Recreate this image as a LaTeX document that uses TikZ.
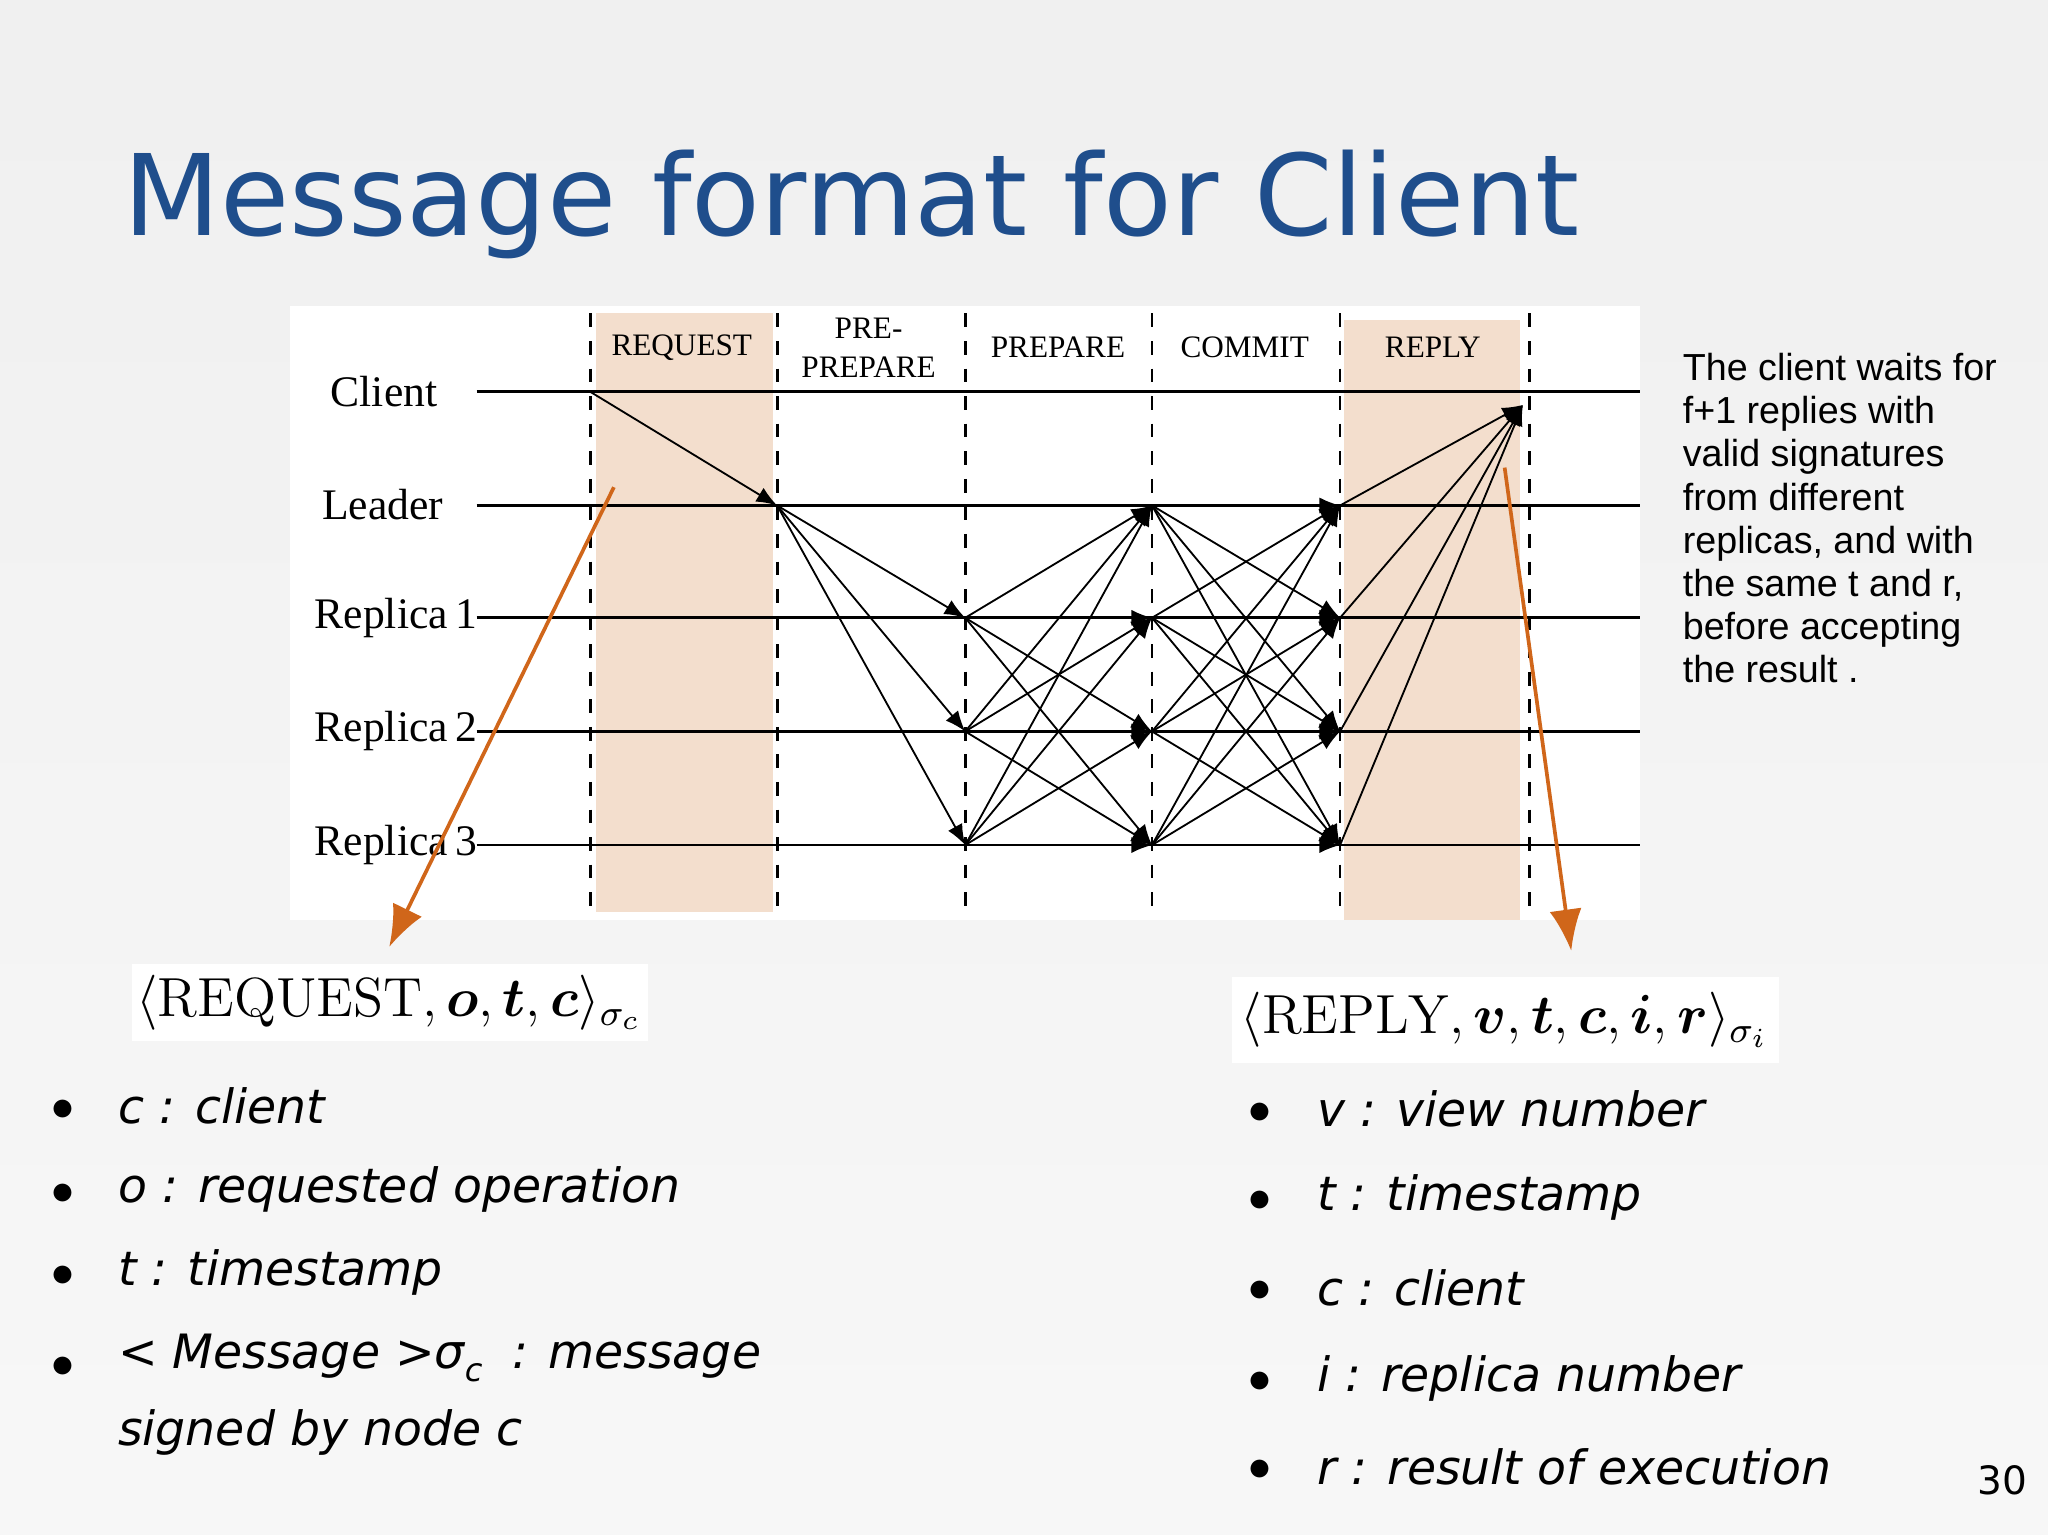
\documentclass[tikz,border=0pt]{standalone}
\usepackage{amsmath}
\usepackage{fontspec}
\usetikzlibrary{arrows.meta}
\newfontfamily\dejavu{DejaVu Sans}
\newfontfamily\lsans{Liberation Sans}
\newfontfamily\lserif{Liberation Serif}
\definecolor{titleblue}{HTML}{1F4E8C}
\definecolor{bandcol}{HTML}{F3DECD}
\definecolor{org}{HTML}{D0661A}
\begin{document}
\begin{tikzpicture}[x=0.01cm,y=-0.01cm,
  msg/.style={-{Latex[length=4.5pt,width=3.5pt]},line width=0.4pt},
  bul/.style={anchor=west,font=\dejavu\itshape\fontsize{10.3}{13}\selectfont},
  dot/.style={font=\dejavu\fontsize{10}{12}\selectfont},
  lab/.style={font=\lserif\fontsize{9.5}{11}\selectfont},
  col/.style={font=\lserif\fontsize{6.8}{8.5}\selectfont,align=center}]
\useasboundingbox (0,0) rectangle (1568,1175);
\fill[top color=gray!12,bottom color=gray!6] (0,0) rectangle (1568,1175);
\node[anchor=base west,text=titleblue,font=\dejavu\fontsize{24.5}{28}\selectfont] (title) at (82,180) {Message format for Client};
\fill[white] (222,234) rectangle (1256,704);
\fill[bandcol] (456,240) rectangle (592,698);
\fill[bandcol] (1029,245) rectangle (1164,704);
\foreach \x in {452,595,739,882,1026,1171}
  \draw[dashed,line width=0.6pt] (\x,240) -- (\x,704);
\foreach \y in {300,387,473,560,647}
  \draw[line width=0.6pt] (365,\y) -- (1256,\y);
\node[lab] (cl) at (294,300) {Client};
\node[lab] (ld) at (293,386) {Leader};
\node[lab] (r1) at (303,473) {Replica\,1};
\node[lab] (r2) at (303,560) {Replica\,2};
\node[lab] (r3) at (303,647) {Replica\,3};
\node[col] (c1) at (522,266) {REQUEST};
\node[col] (c2) at (665,266) {PRE-\\PREPARE};
\node[col] (c3) at (810,266) {PREPARE};
\node[col] (c4) at (953,266) {COMMIT};
\node[col] (c5) at (1097,266) {REPLY};
\foreach \c/\x in {0/452,1/595,2/739,3/882,4/1026}
  \foreach \r/\y in {0/300,1/387,2/473,3/560,4/647}
    \coordinate (p\c\r) at (\x,\y);
\coordinate (cli) at (1166,310);
\draw[msg] (p00) -- (p11);
\foreach \r in {2,3,4} \draw[msg] (p11) -- (p2\r);
\foreach \s in {2,3,4} \foreach \r in {1,2,3,4} \draw[msg] (p2\s) -- (p3\r);
\foreach \s in {1,2,3,4} \foreach \r in {1,2,3,4} \draw[msg] (p3\s) -- (p4\r);
\foreach \s in {1,2,3,4} \draw[msg] (p4\s) -- (cli);
\coordinate (oa1) at (470,373); \coordinate (oa2) at (298,725);
\coordinate (ob1) at (1152,358); \coordinate (ob2) at (1203,728);
\draw[org,line width=0.8pt,-{Latex[length=9pt,width=7pt]}] (oa1) -- (oa2);
\draw[org,line width=0.8pt,-{Latex[length=9pt,width=7pt]}] (ob1) -- (ob2);
\node[anchor=north west,align=left,font=\lsans\fontsize{8.2}{9.4}\selectfont] (note) at (1276,258)
 {The client waits for\\f+1 replies with\\valid signatures\\from different\\replicas, and with\\the same t and r,\\before accepting\\the result .};
\fill[white] (101,738) rectangle (496,797);
\node[font=\fontsize{12}{14}\selectfont] (freq) at (298,768) {$\langle\mathrm{REQUEST}, \boldsymbol{o}, \boldsymbol{t}, \boldsymbol{c}\rangle_{\sigma_c}$};
\fill[white] (943,748) rectangle (1362,814);
\node[font=\fontsize{12}{14}\selectfont] (frep) at (1152,781) {$\langle\mathrm{REPLY}, \boldsymbol{v}, \boldsymbol{t}, \boldsymbol{c}, \boldsymbol{i}, \boldsymbol{r}\rangle_{\sigma_i}$};
\foreach \y/\t [count=\i] in {847/c : client,911/o : requested operation,974/t : timestamp}{
  \node[dot] (bl\i) at (48,\y+3) {$\bullet$};
  \node[bul] (tl\i) at (78,\y) {\t};}
\node[dot] (bl4) at (48,1047) {$\bullet$};
\node[bul] (tl4) at (78,1040) {< Message >σ\raisebox{-0.5ex}{\scriptsize c}\ \ : message};
\node[bul] (tl5) at (78,1097) {signed by node c};
\foreach \y/\t [count=\i] in {849/v : view number,917/t : timestamp,986/c : client,1055/i : replica number,1123/r : result of execution}{
  \node[dot] (br\i) at (965,\y+3) {$\bullet$};
  \node[bul] (tr\i) at (996,\y) {\t};}
\node[font=\dejavu\fontsize{8.5}{10}\selectfont] (pg) at (1533,1133) {30};
\end{tikzpicture}
\end{document}
